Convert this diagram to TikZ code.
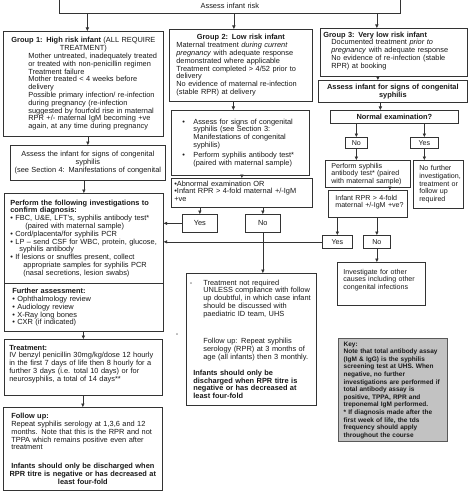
\documentclass[tikz,border=0pt]{standalone}
\usepackage{fontspec}
\setmainfont{Liberation Sans}
\usetikzlibrary{arrows.meta}
\hyphenpenalty=10000
\exhyphenpenalty=10000

\tikzset{
  flowbox/.style={draw=black!80, line width=0.7pt, anchor=north west, inner xsep=3pt, inner ysep=0.5pt,
    align=left, text=black!90, font=\fontsize{7.4}{7.8}\selectfont},
  smalltext/.style={font=\fontsize{7.1}{7.6}\selectfont},
  answer/.style={flowbox, align=center},
  keybox/.style={flowbox, draw=black!65, line width=1.3pt, fill=black!24, font=\fontsize{6.5}{7.6}\selectfont\bfseries},
  arr/.style={draw=black!80, line width=0.6pt, -{Triangle[length=3.5pt,width=3.2pt]}},
}

\begin{document}
\begin{tikzpicture}[x=1pt,y=-1pt]
\useasboundingbox (0,0) rectangle (474,492);
\fill[white] (0,0) rectangle (474,492);

\node[answer,text width=335pt,minimum height=15pt] (risk) at (59,-2) {Assess infant risk};

% group 1
\node[flowbox,text width=154pt,minimum height=105pt] (grpone) at (3,31)
  {{\centering\textbf{Group 1: High risk infant} (ALL REQUIRE\\TREATMENT)\par}
   {\leftskip=22pt Mother untreated, inadequately treated\\or treated with non-penicillin regimen\\Treatment failure\\Mother treated < 4 weeks before\\delivery\\Possible primary infection/ re-infection\\during pregnancy (re-infection\\suggested by fourfold rise in maternal\\RPR +/- maternal IgM becoming +ve\\again, at any time during pregnancy\par}};
\node[answer,text width=149pt,minimum height=35pt] (assessone) at (10,145)
  {Assess the infant for signs of congenital\\syphilis\\(see Section 4: Manifestations of congenital};
\node[flowbox,text width=153pt,minimum height=90pt] (invest) at (4,193)
  {\leftskip=3pt\textbf{Perform the following investigations to\\confirm diagnosis:}\\
   • FBC, U\&E, LFT's, syphilis antibody test*\\\hspace*{15pt}(paired with maternal sample)\\
   • Cord/placenta/for syphilis PCR\\
   • LP -- send CSF for WBC, protein, glucose,\\\hspace*{9pt}syphilis antibody\\
   • If lesions or snuffles present, collect\\\hspace*{13pt}appropriate samples for syphilis PCR\\\hspace*{13pt}(nasal secretions, lesion swabs)\par};
\node[flowbox,text width=153pt,minimum height=48pt] (further) at (4,283)
  {\leftskip=5pt\textbf{Further assessment:}\\• Ophthalmology review\\• Audiology review\\• X-Ray long bones\\• CXR (if indicated)\par};
\node[flowbox,text width=152pt,minimum height=56pt] (treat) at (4,339)
  {\leftskip=2pt\textbf{Treatment:}\\IV benzyl penicillin 30mg/kg/dose 12 hourly\\in the first 7 days of life then 8 hourly for a\\further 3 days (i.e. total 10 days) or for\\neurosyphilis, a total of 14 days**\par\vspace{7pt}};
\node[flowbox,text width=153pt,minimum height=83pt] (followup) at (3,407)
  {{\leftskip=5pt\textbf{Follow up:}\\Repeat syphilis serology at 1,3,6 and 12\\months. Note that this is the RPR and not\\TPPA which remains positive even after\\treatment\par}\vspace{11pt}
   {\centering\bfseries Infants should only be discharged when\\RPR titre is negative or has decreased at\\least four-fold\par}};

% group 2
\node[flowbox,text width=137pt,minimum height=72pt] (grptwo) at (169,29)
  {{\centering\textbf{Group 2: Low risk infant}\par}
   {\leftskip=4pt Maternal treatment \textit{during current}\\\textit{pregnancy} with adequate response\\demonstrated where applicable\\Treatment completed > 4/52 prior to\\delivery\\No evidence of maternal re-infection\\(stable RPR) at delivery\par}};
\node[flowbox,text width=132pt,minimum height=65pt] (checktwo) at (171,110)
  {\leftskip=8pt\makebox[11pt][l]{•}Assess for signs of congenital\\\hspace*{11pt}syphilis (see Section 3:\\\hspace*{11pt}Manifestations of congenital\\\hspace*{11pt}syphilis)\par\vspace{2.5pt}
   \makebox[11pt][l]{•}Perform syphilis antibody test*\\\hspace*{11pt}(paired with maternal sample)\par};
\node[flowbox,text width=135pt,minimum height=29pt] (crittwo) at (171,178)
  {•Abnormal examination OR\\•Infant RPR > 4-fold maternal +/-IgM\\+ve\par\vspace{3pt}};
\node[answer,text width=29pt,minimum height=18pt] (yestwo) at (182,214) {Yes};
\node[answer,text width=29pt,minimum height=18pt] (notwo) at (245,214) {No};
\node[flowbox,text width=124pt,minimum height=132pt] (notreat) at (186,273)
  {{\leftskip=14pt\llap{-\hspace{11pt}}Treatment not required\\UNLESS compliance with follow\\up doubtful, in which case infant\\should be discussed with\\paediatric ID team, UHS\par}\vspace{12pt}
   {\leftskip=14pt\llap{-\hspace{11pt}}Follow up: Repeat syphilis\\serology (RPR) at 3 months of\\age (all infants) then 3 monthly.\par}\vspace{8pt}
   {\leftskip=4pt\bfseries Infants should only be\\discharged when RPR titre is\\negative or has decreased at\\least four-fold\par}};

% group 3
\node[flowbox,text width=141pt,minimum height=48pt] (grpthree) at (320,28)
  {\textbf{Group 3: Very low risk infant}\par
   {\leftskip=8pt Documented treatment \textit{prior to}\\\textit{pregnancy} with adequate response\\No evidence of re-infection (stable\\RPR) at booking\par}\vspace{3pt}};
\node[answer,text width=143pt,minimum height=22pt] (assessthree) at (318,80)
  {\bfseries Assess infant for signs of congenital\\syphilis};
\node[answer,text width=122pt,minimum height=13pt] (normal) at (330,110) {\textbf{Normal examination?}};
\node[answer,smalltext,text width=16pt,minimum height=11pt] (nothree) at (345,137) {No};
\node[answer,smalltext,text width=22pt,minimum height=11pt] (yesthree) at (410,137) {Yes};
\node[flowbox,smalltext,text width=79pt,minimum height=27pt] (testthree) at (325,160)
  {\leftskip=3pt Perform syphilis\\antibody test* (paired\\with maternal sample)\par};
\node[flowbox,smalltext,text width=44pt,minimum height=48pt] (nofurther) at (413,160)
  {\leftskip=3pt No further\\investigation,\\treatment or\\follow up\\required\par};
\node[flowbox,smalltext,text width=73pt,minimum height=27pt] (critthree) at (328,190)
  {\leftskip=4pt Infant RPR > 4-fold\\maternal +/-IgM +ve?\par\vspace{3pt}};
\node[answer,smalltext,text width=24pt,minimum height=13pt] (yesthreeb) at (322,235) {Yes};
\node[answer,smalltext,text width=21pt,minimum height=13pt] (nothreeb) at (363,235) {No};
\node[flowbox,smalltext,text width=82pt,minimum height=43pt] (other) at (337,262)
  {\leftskip=3pt Investigate for other\\causes including other\\congenital infections\par\vspace{8pt}};

\node[keybox,text width=103pt,minimum height=103pt] (key) at (338,338)
  {\leftskip=2pt Key:\\*Note that total antibody assay\\(IgM \& IgG) is the syphilis\\screening test at UHS. When\\negative, no further\\investigations are performed if\\total antibody assay is\\positive, TPPA, RPR and\\treponemal IgM performed.\\** If diagnosis made after the\\first week of life, the tds\\frequency should apply\\throughout the course\par};

% arrows
\draw[arr] ([xshift=4pt]grpone.north |- risk.south) -- ([xshift=4pt]grpone.north);
\draw[arr] ([xshift=-7pt]grptwo.north |- risk.south) -- ([xshift=-7pt]grptwo.north);
\draw[arr] ([xshift=-17pt]grpthree.north |- risk.south) -- ([xshift=-17pt]grpthree.north);

\draw[arr] (assessone.north |- grpone.south) -- (assessone.north);
\draw[arr] (invest.north |- assessone.south) -- (invest.north);
\draw[arr] (treat.north |- further.south) -- (treat.north);
\draw[arr] (followup.north |- treat.south) -- (followup.north);

\draw[arr] ([xshift=-7pt]checktwo.north |- grptwo.south) -- ([xshift=-7pt]checktwo.north);
\draw[arr] (crittwo.north |- checktwo.south) -- (crittwo.north);
\draw[arr] (yestwo.north |- crittwo.south) -- (yestwo.north);
\draw[arr] (notwo.north |- crittwo.south) -- (notwo.north);
\draw[arr] (yestwo.west) -- (yestwo.west -| invest.east);
\draw[arr] (notwo.south) -- (notwo.south |- notreat.north);

\draw[arr] ([xshift=-15pt]assessthree.north |- grpthree.south) -- ([xshift=-15pt]assessthree.north);
\draw[arr] ([xshift=-14pt]normal.north |- assessthree.south) -- ([xshift=-14pt]normal.north);
\draw[arr] (nothree.north |- normal.south) -- (nothree.north);
\draw[arr] (yesthree.north |- normal.south) -- (yesthree.north);
\draw[arr] (nothree.south) -- (nothree.south |- testthree.north);
\draw[arr] (yesthree.south) -- (yesthree.south |- nofurther.north);
\draw[arr] ([xshift=22pt]critthree.north |- testthree.south) -- ([xshift=22pt]critthree.north);
\draw[arr] (yesthreeb.north |- critthree.south) -- (yesthreeb.north);
\draw[arr] (nothreeb.north |- critthree.south) -- (nothreeb.north);
\draw[arr] (nothreeb.south) -- (nothreeb.south |- other.north);
\draw[arr] (yesthreeb.west) -- (yesthreeb.west -| invest.east);
\end{tikzpicture}
\end{document}
